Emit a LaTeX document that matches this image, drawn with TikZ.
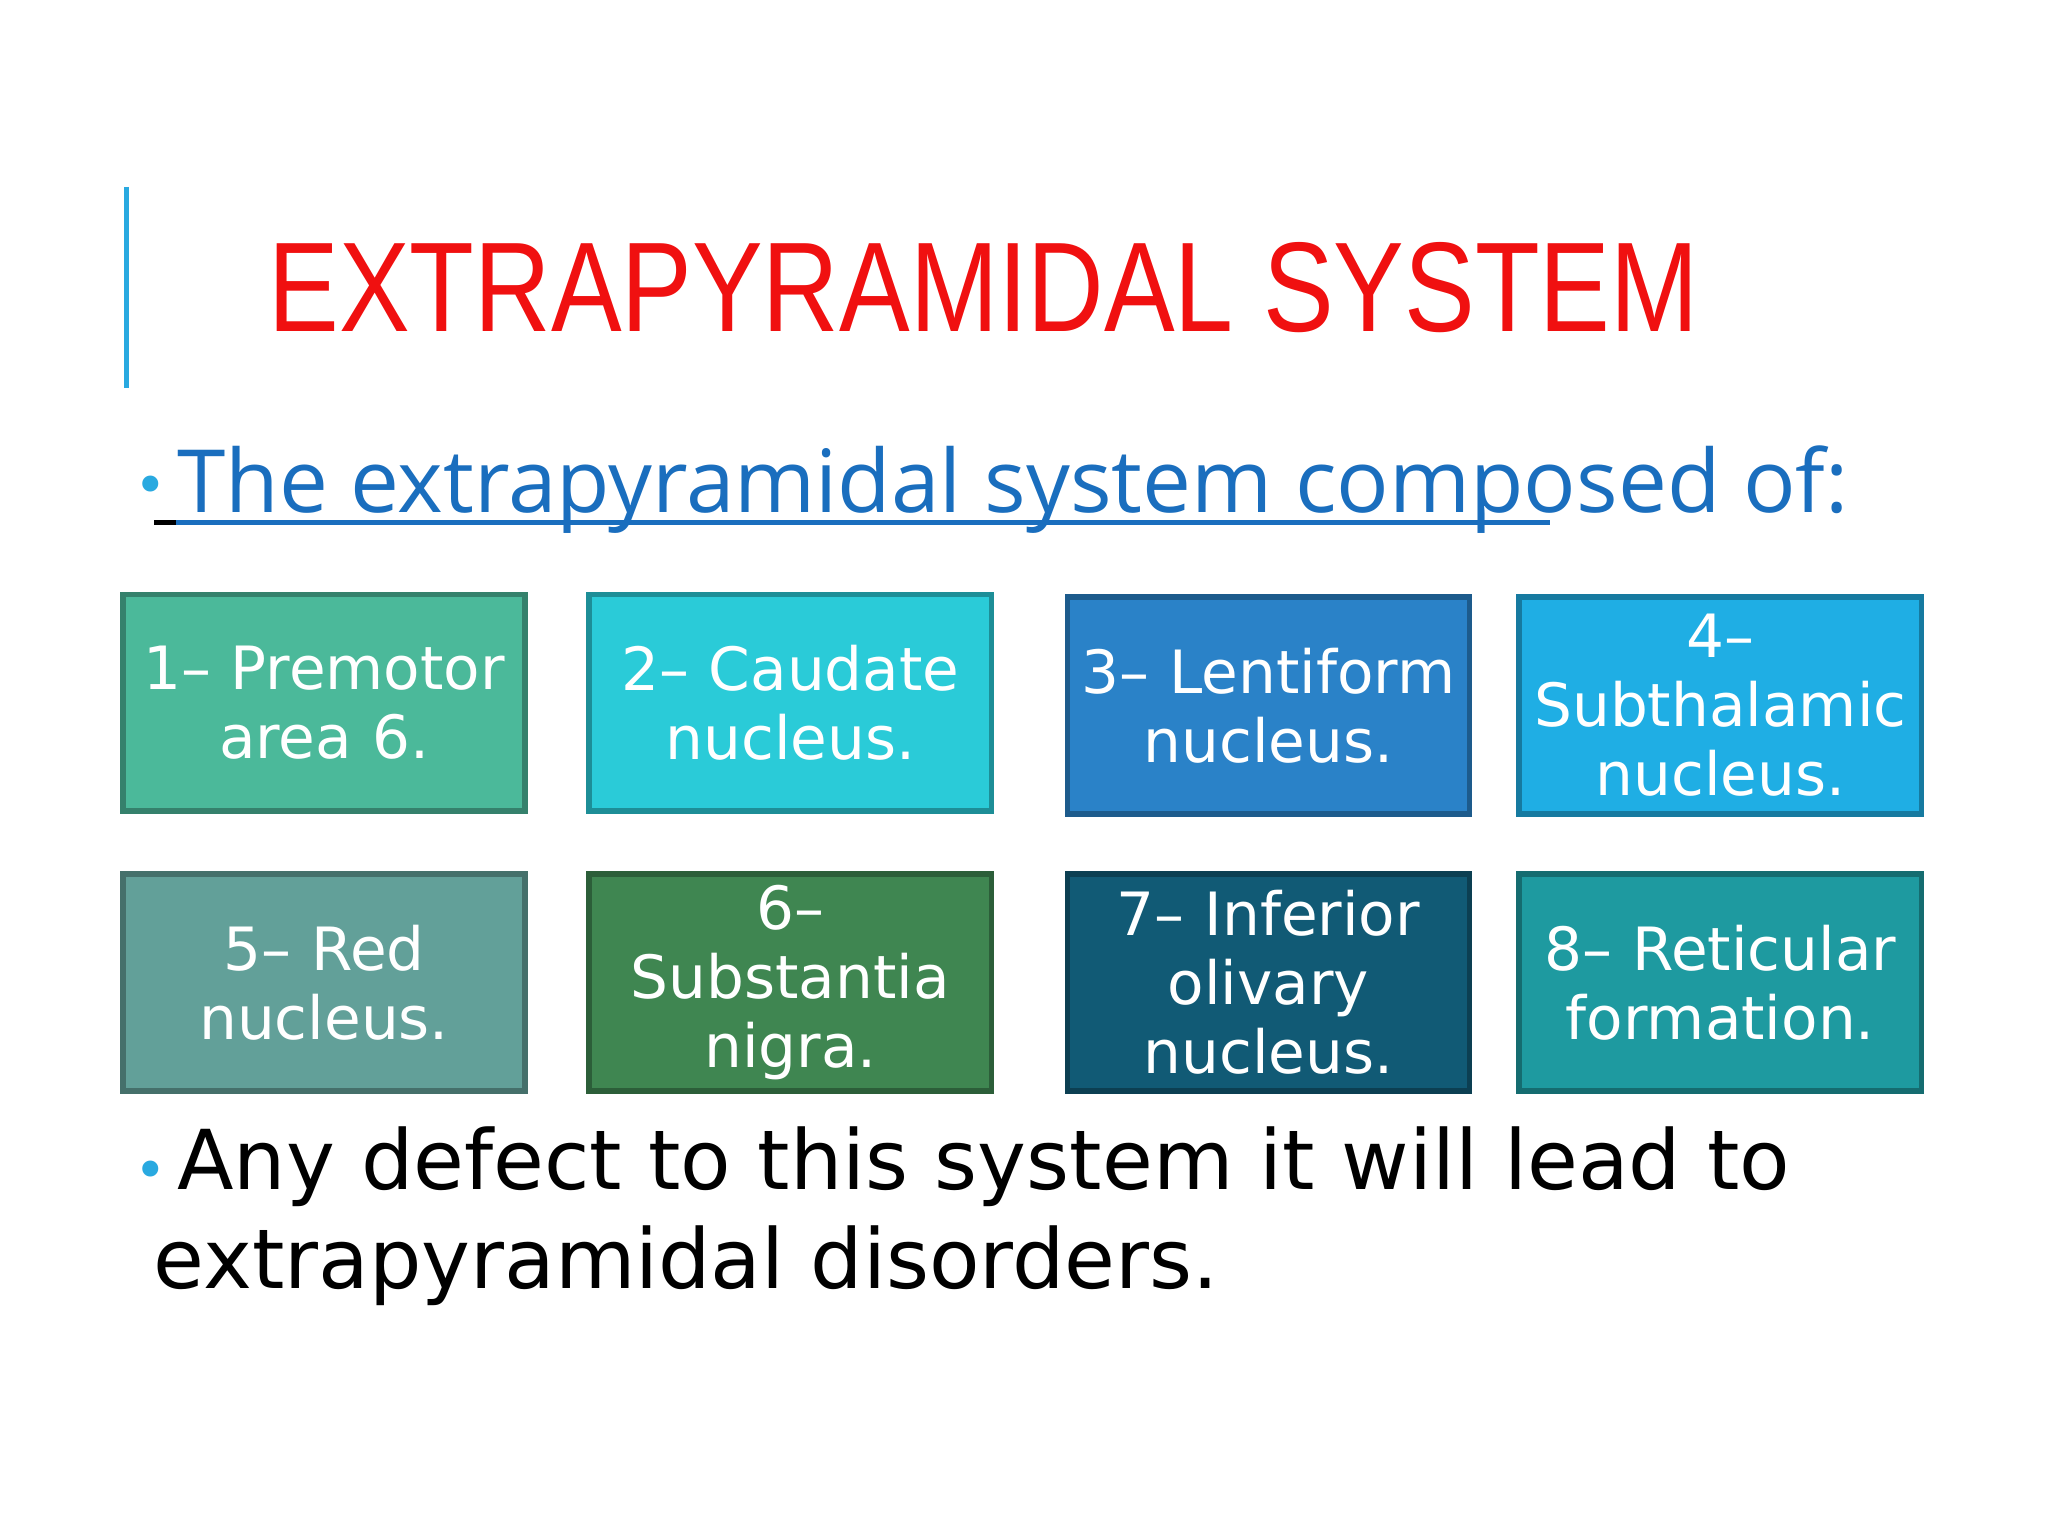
\documentclass[tikz,border=0pt]{standalone}
\usepackage{fontspec}
\setmainfont{DejaVu Sans}
\newfontfamily\titlefont{Liberation Sans}
\newfontfamily\subfont{Open Sans}
\definecolor{cA}{HTML}{4BB99A}\definecolor{cB}{HTML}{2ACBD8}
\definecolor{cC}{HTML}{2A82C8}\definecolor{cD}{HTML}{1FAEE4}
\definecolor{cE}{HTML}{62A099}\definecolor{cF}{HTML}{3F8651}
\definecolor{cG}{HTML}{115A75}\definecolor{cH}{HTML}{1E9AA0}
\definecolor{ttl}{HTML}{F01010}\definecolor{sub}{HTML}{1A6EBE}\definecolor{bul}{HTML}{29A9E0}
\tikzset{box/.style={draw=#1!70!black,fill=#1,line width=1.2pt,minimum width=3.08cm,minimum height=1.66cm,text width=2.9cm,align=center,text=white,inner sep=0pt,font=\fontsize{13}{15}\selectfont,anchor=north west}}
\begin{document}
\begin{tikzpicture}[x=1cm,y=1cm]
\useasboundingbox (0,0) rectangle (15.68,-11.76);
\fill[white] (0,0) rectangle (15.68,-11.76);
\draw[bul,line width=1.2pt] (0.97,-1.43) coordinate (l1) -- (0.97,-2.97) coordinate (l2);
\node[anchor=west,text=ttl,inner sep=0pt,xscale=0.83,font=\titlefont\fontsize{27.8}{30}\selectfont] (title) at (2.05,-2.2) {EXTRAPYRAMIDAL SYSTEM};
\node[anchor=west,text=bul,inner sep=0pt] (b1) at (1.02,-3.75) {\fontsize{12}{14}\selectfont•};
\node[anchor=west,text=sub,inner sep=0pt,font=\subfont\fontsize{19}{22}\selectfont] (subt) at (1.35,-3.75) {The extrapyramidal system composed of:};
\draw[sub,line width=1pt] (1.35,-4.0) coordinate (u1) -- (11.87,-4.0) coordinate (u2);
\draw[black,line width=1pt] (1.18,-4.0) coordinate (u0) -- (1.35,-4.0);
\node[box=cA] (n1) at (0.92,-4.53) {1– Premotor area 6.};
\node[box=cB] (n2) at (4.49,-4.53) {2– Caudate nucleus.};
\node[box=cC] (n3) at (8.15,-4.55) {3– Lentiform nucleus.};
\node[box=cD] (n4) at (11.61,-4.55) {4–\\Subthalamic nucleus.};
\node[box=cE] (n5) at (0.92,-6.67) {5– Red\\nucleus.};
\node[box=cF] (n6) at (4.49,-6.67) {6–\\Substantia nigra.};
\node[box=cG] (n7) at (8.15,-6.67) {7– Inferior olivary nucleus.};
\node[box=cH] (n8) at (11.61,-6.67) {8– Reticular formation.};
\node[anchor=west,text=bul,inner sep=0pt] (b2) at (1.02,-9.0) {\fontsize{12}{14}\selectfont•};
\node[anchor=north west,inner sep=0pt,align=left,font=\fontsize{18}{21.5}\selectfont] (bot) at (1.17,-8.62) {\hspace*{0.18cm}Any defect to this system it will lead to\\extrapyramidal disorders.};
\end{tikzpicture}
\end{document}
